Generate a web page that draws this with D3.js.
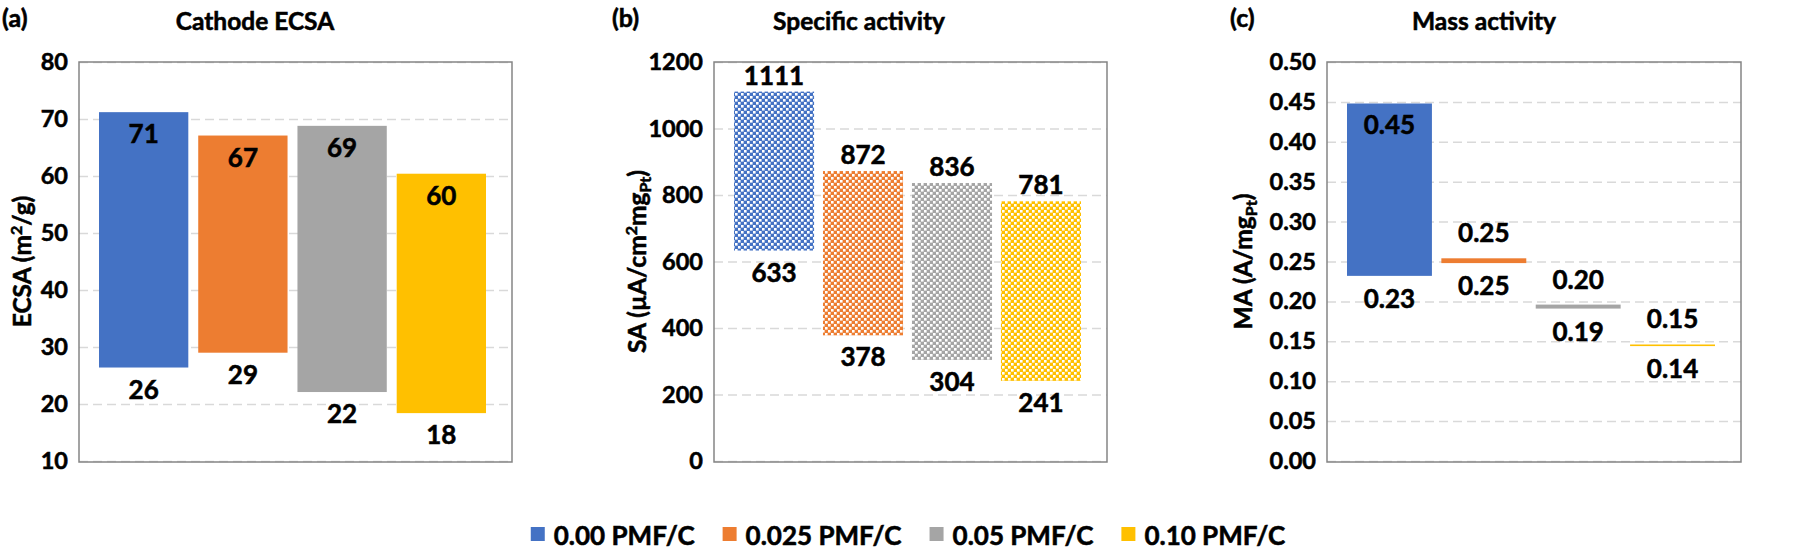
<!DOCTYPE html>
<html>
<head>
<meta charset="utf-8">
<script src="https://cdn.jsdelivr.net/npm/d3@7"></script>
<style>
  html, body { margin: 0; padding: 0; background: #fff; }
  svg { display: block; }
  text { font-family: Lato, "Open Sans", "DejaVu Sans", sans-serif; font-weight: 700; fill: #000; stroke: #000; stroke-width: 0.55px; }
</style>
</head>
<body>
<svg id="chart" width="1820" height="551"></svg>
<script>
// ---------------- DATA ----------------
const categories = ["0.00 PMF/C", "0.025 PMF/C", "0.05 PMF/C", "0.10 PMF/C"];
const seriesColors = ["#4472C4", "#ED7D31", "#A5A5A5", "#FFC000"];

const ecsaHigh = [71.2, 67.1, 68.8, 60.4];
const ecsaLow  = [26.4, 29.0, 22.1, 18.4];
const ecsaTicks = [10, 20, 30, 40, 50, 60, 70, 80];

const saHigh = [1111, 872, 836, 781];
const saLow  = [633, 378, 304, 241];
const saTicks = [0, 200, 400, 600, 800, 1000, 1200];

const maHigh = [0.448, 0.254, 0.196, 0.146];
const maLow  = [0.232, 0.248, 0.191, 0.144];
const maTicks = [0.00, 0.05, 0.10, 0.15, 0.20, 0.25, 0.30, 0.35, 0.40, 0.45, 0.50];

const panelTitles = ["Cathode ECSA", "Specific activity", "Mass activity"];
const panelLetters = ["(a)", "(b)", "(c)"];

// ---------------- LAYOUT ----------------
const svg = d3.select("#chart");
const plotTop = 62, plotBottom = 461;

const defs = svg.append("defs");
seriesColors.forEach((c, i) => {
  const p = defs.append("pattern")
    .attr("id", "chk" + i)
    .attr("patternUnits", "userSpaceOnUse")
    .attr("width", 6).attr("height", 6);
  p.append("rect").attr("width", 6).attr("height", 6).attr("fill", c);
  p.append("rect").attr("x", 0).attr("y", 0).attr("width", 2.6).attr("height", 2.6).attr("fill", "#fff");
  p.append("rect").attr("x", 3).attr("y", 3).attr("width", 2.6).attr("height", 2.6).attr("fill", "#fff");
});

const panels = [
  {
    high: ecsaHigh, low: ecsaLow, ticks: ecsaTicks, domain: [10, 80], fmt: d3.format(".0f"),
    left: 79, right: 512, title: panelTitles[0], titleX: 255, letter: panelLetters[0], letterX: 2,
    pattern: false, topInside: [true, true, true, true], aboveOff: 17, belowOff: 21,
    ytitleX: 31, ytitle: [["ECSA (m", 0], ["2", -1], ["/g)", 0]]
  },
  {
    high: saHigh, low: saLow, ticks: saTicks, domain: [0, 1200], fmt: d3.format(".0f"),
    left: 714, right: 1107, title: panelTitles[1], titleX: 859, letter: panelLetters[1], letterX: 612,
    pattern: true, topInside: [false, false, false, false], aboveOff: 17, belowOff: 21,
    ytitleX: 646, ytitle: [["SA (µA/cm", 0], ["2", -1], ["mg", 0], ["Pt", 1], [")", 0]]
  },
  {
    high: maHigh, low: maLow, ticks: maTicks, domain: [0, 0.5], fmt: d3.format(".2f"),
    left: 1327, right: 1741, title: panelTitles[2], titleX: 1484, letter: panelLetters[2], letterX: 1230,
    pattern: false, topInside: [true, false, false, false], aboveOff: 26, belowOff: 22,
    ytitleX: 1252, ytitle: [["MA (A/mg", 0], ["Pt", 1], [")", 0]]
  }
];

panels.forEach(P => {
  const g = svg.append("g");
  const y = d3.scaleLinear().domain(P.domain).range([plotBottom, plotTop]);
  const x = d3.scaleBand().domain(categories).range([P.left + 20, P.right - 26]).paddingInner(0.1).paddingOuter(0);
  const w = P.right - P.left;

  // gridlines
  const grid = g.append("g").attr("transform", `translate(${P.left},0)`)
    .call(d3.axisLeft(y).tickValues(P.ticks).tickSize(-w).tickFormat(""));
  grid.select(".domain").remove();
  grid.selectAll("line").attr("stroke", "#d9d9d9").attr("stroke-width", 1.5).attr("stroke-dasharray", "9,5");

  // tick labels
  const ax = g.append("g").attr("transform", `translate(${P.left},0)`)
    .call(d3.axisLeft(y).tickValues(P.ticks).tickSize(0).tickPadding(11).tickFormat(P.fmt));
  ax.select(".domain").remove();
  ax.selectAll("text").attr("font-size", 23.5).attr("fill", "#000")
    .style("font-family", "Lato, sans-serif").style("font-weight", 700)
    .style("stroke", "#000").style("stroke-width", "0.55px");

  // bars
  g.selectAll("rect.bar").data(categories).join("rect")
    .attr("class", "bar")
    .attr("x", d => x(d))
    .attr("width", x.bandwidth())
    .attr("y", (d, i) => y(P.high[i]))
    .attr("height", (d, i) => Math.max(1, y(P.low[i]) - y(P.high[i])))
    .attr("fill", (d, i) => P.pattern ? `url(#chk${i})` : seriesColors[i]);

  // top labels
  g.selectAll("text.top").data(categories).join("text")
    .attr("class", "top")
    .attr("x", d => x(d) + x.bandwidth() / 2)
    .attr("y", (d, i) => y(P.high[i]) + (P.topInside[i] ? 21 : -P.aboveOff))
    .attr("text-anchor", "middle").attr("dominant-baseline", "central")
    .attr("font-size", 26)
    .text((d, i) => P.fmt(P.high[i]));

  // bottom labels
  g.selectAll("text.bot").data(categories).join("text")
    .attr("class", "bot")
    .attr("x", d => x(d) + x.bandwidth() / 2)
    .attr("y", (d, i) => y(P.low[i]) + P.belowOff)
    .attr("text-anchor", "middle").attr("dominant-baseline", "central")
    .attr("font-size", 26)
    .text((d, i) => P.fmt(P.low[i]));

  // frame
  g.append("rect").attr("x", P.left).attr("y", plotTop).attr("width", w).attr("height", plotBottom - plotTop + 1)
    .attr("fill", "none").attr("stroke", "#858585").attr("stroke-width", 1.5);

  // title + letter
  g.append("text").attr("x", P.titleX).attr("y", 30).attr("text-anchor", "middle").attr("font-size", 24.5).text(P.title);
  g.append("text").attr("x", P.letterX).attr("y", 27).attr("font-size", 25).text(P.letter);

  // y axis title
  const yt = g.append("text")
    .attr("transform", `translate(${P.ytitleX},${(plotTop + plotBottom) / 2}) rotate(-90)`)
    .attr("text-anchor", "middle").attr("font-size", 24.5);
  let prev = 0;
  P.ytitle.forEach(([s, k]) => {
    const t = yt.append("tspan").text(s);
    let shift = 0;
    if (k === -1) shift = -9;
    if (k === 1) shift = 5;
    t.attr("dy", shift - prev);
    if (k !== 0) t.attr("font-size", 16);
    prev = shift;
  });
});

// ---------------- LEGEND ----------------
const leg = svg.append("g");
const sq = 14, gap = 9, itemGap = 28;
let cx = 0;
categories.forEach((c, i) => {
  const it = leg.append("g");
  it.append("rect").attr("x", 0).attr("y", -sq / 2 - 1).attr("width", sq).attr("height", sq).attr("fill", seriesColors[i]);
  const t = it.append("text").attr("x", sq + gap).attr("y", 0).attr("dominant-baseline", "central")
    .attr("font-size", 26).text(c);
  const tw = t.node().getComputedTextLength();
  it.attr("transform", `translate(${cx},0)`);
  cx += sq + gap + tw + itemGap;
});
const totalW = cx - itemGap;
leg.attr("transform", `translate(${908 - totalW / 2},535)`);
</script>
</body>
</html>
